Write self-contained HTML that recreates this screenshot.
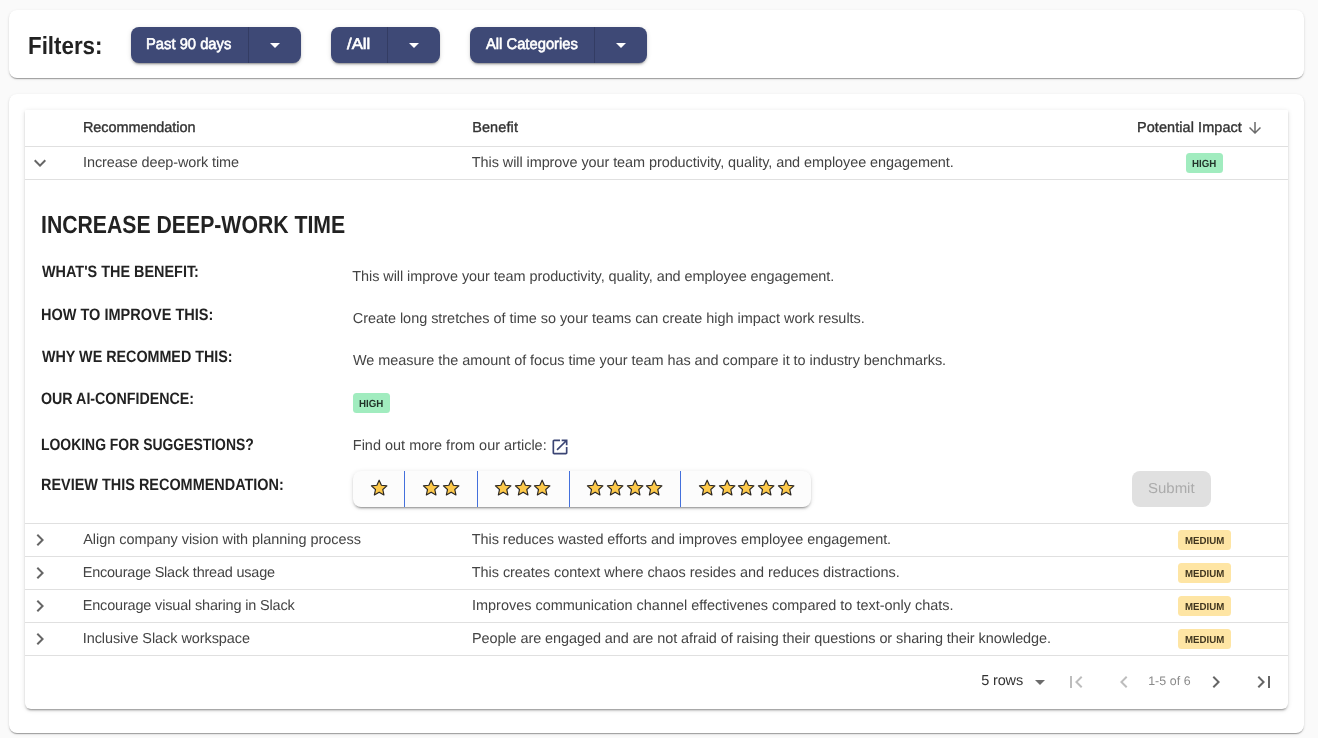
<!DOCTYPE html>
<html><head><meta charset="utf-8"><title>Recommendations</title>
<style>
*{box-sizing:border-box;margin:0;padding:0}
html,body{width:1318px;height:738px;overflow:hidden;background:#fafafa;font-family:"Liberation Sans",sans-serif}
.a{position:absolute}
.t{position:absolute;white-space:pre;text-rendering:geometricPrecision;line-height:normal;transform-origin:0 50%;font-family:"Liberation Sans",sans-serif}
.card{position:absolute;background:#fff;border-radius:8px;box-shadow:0 2px 1px -1px rgba(0,0,0,.2),0 1px 1px 0 rgba(0,0,0,.14),0 1px 3px 0 rgba(0,0,0,.12)}
.tbl{position:absolute;left:25px;top:110px;width:1263px;height:598.5px;background:#fff;border-radius:1px 1px 6px 6px;box-shadow:0 3px 1px -2px rgba(0,0,0,.2),0 2px 2px 0 rgba(0,0,0,.14),0 1px 5px 0 rgba(0,0,0,.12)}
.hl{position:absolute;left:25px;width:1263px;height:1px;background:#e0e0e0}
.btn{position:absolute;top:27px;height:35.5px;background:#3e4976;border-radius:8px;box-shadow:0 3px 1px -2px rgba(0,0,0,.2),0 2px 2px 0 rgba(0,0,0,.14),0 1px 5px 0 rgba(0,0,0,.12)}
.bdiv{position:absolute;top:27px;width:1px;height:35.5px;background:#333c63}
.ic{position:absolute;width:24px;height:24px}
.badge{position:absolute;height:20px;border-radius:3.5px}
.hi{background:#a1ecbf;width:37px}
.med{background:#fee5a4;width:53px;left:1178px}
.sdiv{position:absolute;top:471px;width:1.3px;height:36px;background:#4470dc}
.star{position:absolute;top:478.95px;width:18.3px;height:18.3px}
</style></head><body>
<div class="card" style="left:9px;top:10px;width:1295px;height:68px"></div>
<div class="card" style="left:9px;top:93.6px;width:1295px;height:639.3px"></div>
<div class="tbl"></div>

<!-- filter buttons -->
<div class="btn" style="left:131px;width:169.7px"></div><div class="bdiv" style="left:247.6px"></div>
<div class="btn" style="left:331px;width:108.8px"></div><div class="bdiv" style="left:386.9px"></div>
<div class="btn" style="left:470.2px;width:176.8px"></div><div class="bdiv" style="left:594px"></div>
<svg class="ic" style="left:263.2px;top:33px" viewBox="0 0 24 24"><path fill="#fff" d="M7 10l5 5 5-5z"/></svg>
<svg class="ic" style="left:402.1px;top:33px" viewBox="0 0 24 24"><path fill="#fff" d="M7 10l5 5 5-5z"/></svg>
<svg class="ic" style="left:609.1px;top:33px" viewBox="0 0 24 24"><path fill="#fff" d="M7 10l5 5 5-5z"/></svg>

<!-- lines -->
<div class="hl" style="top:146px"></div>
<div class="hl" style="top:179px"></div>
<div class="hl" style="top:523px"></div>
<div class="hl" style="top:556px"></div>
<div class="hl" style="top:589px"></div>
<div class="hl" style="top:622px"></div>
<div class="hl" style="top:655px"></div>

<!-- sort arrow -->
<svg class="a" style="left:1245.8px;top:119.1px;width:18px;height:18px" viewBox="0 0 24 24"><path fill="#6b6b6b" d="M20 12l-1.41-1.41L13 16.17V4h-2v12.17l-5.58-5.59L4 12l8 8 8-8z"/></svg>
<!-- expand chevrons -->
<svg class="ic" style="left:28px;top:150.6px" viewBox="0 0 24 24"><path fill="#666" d="M7.41 8.59L12 13.17l4.59-4.58L18 10l-6 6-6-6 1.41-1.41z"/></svg>
<svg class="ic" style="left:28px;top:528.2px" viewBox="0 0 24 24"><path fill="#666" d="M10 6L8.59 7.41 13.17 12l-4.58 4.59L10 18l6-6z"/></svg>
<svg class="ic" style="left:28px;top:561.2px" viewBox="0 0 24 24"><path fill="#666" d="M10 6L8.59 7.41 13.17 12l-4.58 4.59L10 18l6-6z"/></svg>
<svg class="ic" style="left:28px;top:594.2px" viewBox="0 0 24 24"><path fill="#666" d="M10 6L8.59 7.41 13.17 12l-4.58 4.59L10 18l6-6z"/></svg>
<svg class="ic" style="left:28px;top:627.2px" viewBox="0 0 24 24"><path fill="#666" d="M10 6L8.59 7.41 13.17 12l-4.58 4.59L10 18l6-6z"/></svg>

<!-- badges -->
<div class="badge hi" style="left:1186px;top:153px"></div>
<div class="badge hi" style="left:353px;top:393px"></div>
<div class="badge med" style="top:530px"></div>
<div class="badge med" style="top:563px"></div>
<div class="badge med" style="top:596px"></div>
<div class="badge med" style="top:629px"></div>

<!-- open in new -->
<svg class="a" style="left:550px;top:436.7px;width:20px;height:20px" viewBox="0 0 24 24"><path fill="#3b4574" d="M19 19H5V5h7V3H5c-1.11 0-2 .9-2 2v14c0 1.1.89 2 2 2h14c1.1 0 2-.9 2-2v-7h-2v7zM14 3v2h3.590l-9.830 9.830 1.410 1.410L19 6.410V10h2V3h-7z"/></svg>

<!-- star rating group -->
<div class="a" style="left:353px;top:471px;width:458px;height:36px;border-radius:8px;background:#fcfcfc;box-shadow:0 3px 1px -2px rgba(0,0,0,.2),0 2px 2px 0 rgba(0,0,0,.14),0 1px 5px 0 rgba(0,0,0,.12)"></div>
<div class="sdiv" style="left:403.9px"></div>
<div class="sdiv" style="left:476.9px"></div>
<div class="sdiv" style="left:568.8px"></div>
<div class="sdiv" style="left:679.9px"></div>

<svg class="star" style="left:369.65px" viewBox="0 0 18.3 18.3"><path d="M9.15 1.20 L11.41 6.24 L16.90 6.83 L12.81 10.54 L13.94 15.94 L9.15 13.20 L4.36 15.94 L5.49 10.54 L1.40 6.83 L6.89 6.24 Z" fill="#fdc94a" stroke="#2b2723" stroke-width="1.15" stroke-linejoin="round"/></svg>
<svg class="star" style="left:422.15px" viewBox="0 0 18.3 18.3"><path d="M9.15 1.20 L11.41 6.24 L16.90 6.83 L12.81 10.54 L13.94 15.94 L9.15 13.20 L4.36 15.94 L5.49 10.54 L1.40 6.83 L6.89 6.24 Z" fill="#fdc94a" stroke="#2b2723" stroke-width="1.15" stroke-linejoin="round"/></svg>
<svg class="star" style="left:441.70px" viewBox="0 0 18.3 18.3"><path d="M9.15 1.20 L11.41 6.24 L16.90 6.83 L12.81 10.54 L13.94 15.94 L9.15 13.20 L4.36 15.94 L5.49 10.54 L1.40 6.83 L6.89 6.24 Z" fill="#fdc94a" stroke="#2b2723" stroke-width="1.15" stroke-linejoin="round"/></svg>
<svg class="star" style="left:494.15px" viewBox="0 0 18.3 18.3"><path d="M9.15 1.20 L11.41 6.24 L16.90 6.83 L12.81 10.54 L13.94 15.94 L9.15 13.20 L4.36 15.94 L5.49 10.54 L1.40 6.83 L6.89 6.24 Z" fill="#fdc94a" stroke="#2b2723" stroke-width="1.15" stroke-linejoin="round"/></svg>
<svg class="star" style="left:513.70px" viewBox="0 0 18.3 18.3"><path d="M9.15 1.20 L11.41 6.24 L16.90 6.83 L12.81 10.54 L13.94 15.94 L9.15 13.20 L4.36 15.94 L5.49 10.54 L1.40 6.83 L6.89 6.24 Z" fill="#fdc94a" stroke="#2b2723" stroke-width="1.15" stroke-linejoin="round"/></svg>
<svg class="star" style="left:533.25px" viewBox="0 0 18.3 18.3"><path d="M9.15 1.20 L11.41 6.24 L16.90 6.83 L12.81 10.54 L13.94 15.94 L9.15 13.20 L4.36 15.94 L5.49 10.54 L1.40 6.83 L6.89 6.24 Z" fill="#fdc94a" stroke="#2b2723" stroke-width="1.15" stroke-linejoin="round"/></svg>
<svg class="star" style="left:586.45px" viewBox="0 0 18.3 18.3"><path d="M9.15 1.20 L11.41 6.24 L16.90 6.83 L12.81 10.54 L13.94 15.94 L9.15 13.20 L4.36 15.94 L5.49 10.54 L1.40 6.83 L6.89 6.24 Z" fill="#fdc94a" stroke="#2b2723" stroke-width="1.15" stroke-linejoin="round"/></svg>
<svg class="star" style="left:606.00px" viewBox="0 0 18.3 18.3"><path d="M9.15 1.20 L11.41 6.24 L16.90 6.83 L12.81 10.54 L13.94 15.94 L9.15 13.20 L4.36 15.94 L5.49 10.54 L1.40 6.83 L6.89 6.24 Z" fill="#fdc94a" stroke="#2b2723" stroke-width="1.15" stroke-linejoin="round"/></svg>
<svg class="star" style="left:625.55px" viewBox="0 0 18.3 18.3"><path d="M9.15 1.20 L11.41 6.24 L16.90 6.83 L12.81 10.54 L13.94 15.94 L9.15 13.20 L4.36 15.94 L5.49 10.54 L1.40 6.83 L6.89 6.24 Z" fill="#fdc94a" stroke="#2b2723" stroke-width="1.15" stroke-linejoin="round"/></svg>
<svg class="star" style="left:645.10px" viewBox="0 0 18.3 18.3"><path d="M9.15 1.20 L11.41 6.24 L16.90 6.83 L12.81 10.54 L13.94 15.94 L9.15 13.20 L4.36 15.94 L5.49 10.54 L1.40 6.83 L6.89 6.24 Z" fill="#fdc94a" stroke="#2b2723" stroke-width="1.15" stroke-linejoin="round"/></svg>
<svg class="star" style="left:698.35px" viewBox="0 0 18.3 18.3"><path d="M9.15 1.20 L11.41 6.24 L16.90 6.83 L12.81 10.54 L13.94 15.94 L9.15 13.20 L4.36 15.94 L5.49 10.54 L1.40 6.83 L6.89 6.24 Z" fill="#fdc94a" stroke="#2b2723" stroke-width="1.15" stroke-linejoin="round"/></svg>
<svg class="star" style="left:717.90px" viewBox="0 0 18.3 18.3"><path d="M9.15 1.20 L11.41 6.24 L16.90 6.83 L12.81 10.54 L13.94 15.94 L9.15 13.20 L4.36 15.94 L5.49 10.54 L1.40 6.83 L6.89 6.24 Z" fill="#fdc94a" stroke="#2b2723" stroke-width="1.15" stroke-linejoin="round"/></svg>
<svg class="star" style="left:737.45px" viewBox="0 0 18.3 18.3"><path d="M9.15 1.20 L11.41 6.24 L16.90 6.83 L12.81 10.54 L13.94 15.94 L9.15 13.20 L4.36 15.94 L5.49 10.54 L1.40 6.83 L6.89 6.24 Z" fill="#fdc94a" stroke="#2b2723" stroke-width="1.15" stroke-linejoin="round"/></svg>
<svg class="star" style="left:757.00px" viewBox="0 0 18.3 18.3"><path d="M9.15 1.20 L11.41 6.24 L16.90 6.83 L12.81 10.54 L13.94 15.94 L9.15 13.20 L4.36 15.94 L5.49 10.54 L1.40 6.83 L6.89 6.24 Z" fill="#fdc94a" stroke="#2b2723" stroke-width="1.15" stroke-linejoin="round"/></svg>
<svg class="star" style="left:776.55px" viewBox="0 0 18.3 18.3"><path d="M9.15 1.20 L11.41 6.24 L16.90 6.83 L12.81 10.54 L13.94 15.94 L9.15 13.20 L4.36 15.94 L5.49 10.54 L1.40 6.83 L6.89 6.24 Z" fill="#fdc94a" stroke="#2b2723" stroke-width="1.15" stroke-linejoin="round"/></svg>

<!-- submit -->
<div class="a" style="left:1132.3px;top:471px;width:78.5px;height:36px;border-radius:8px;background:#e0e0e0"></div>

<!-- pagination icons -->
<svg class="ic" style="left:1027.8px;top:669.6px" viewBox="0 0 24 24"><path fill="#6b6b6b" d="M7 10l5 5 5-5z"/></svg>
<svg class="ic" style="left:1063.5px;top:669.7px" viewBox="0 0 24 24"><path fill="#bdbdbd" d="M18.41 16.59L13.82 12l4.590-4.590L17 6l-6 6 6 6zM6 6h2v12H6z"/></svg>
<svg class="ic" style="left:1112px;top:669.7px" viewBox="0 0 24 24"><path fill="#bdbdbd" d="M15.41 7.41L14 6l-6 6 6 6 1.410-1.410L10.830 12z"/></svg>
<svg class="ic" style="left:1203.7px;top:669.7px" viewBox="0 0 24 24"><path fill="#666" d="M10 6L8.59 7.41 13.17 12l-4.58 4.59L10 18l6-6z"/></svg>
<svg class="ic" style="left:1251.9px;top:669.7px" viewBox="0 0 24 24"><path fill="#666" d="M5.59 7.41L10.18 12l-4.590 4.590L7 18l6-6-6-6zM16 6h2v12h-2z"/></svg>

<div class="a" style="left:0;top:0;width:1318px;height:738px;will-change:transform">
<span class="t" style="left:28.01px;top:33.00px;font-size:24.79px;font-weight:700;color:#222;transform:scaleX(0.9010);">Filters:</span>
<span class="t" style="left:146.08px;top:36.30px;font-size:15.49px;font-weight:400;color:#fff;-webkit-text-stroke:0.60px currentColor;transform:scaleX(0.9533);">Past 90 days</span>
<span class="t" style="left:347.29px;top:36.30px;font-size:15.49px;font-weight:400;color:#fff;-webkit-text-stroke:0.60px currentColor;transform:scaleX(1.0816);">/All</span>
<span class="t" style="left:485.52px;top:36.30px;font-size:15.49px;font-weight:400;color:#fff;-webkit-text-stroke:0.60px currentColor;transform:scaleX(0.9532);">All Categories</span>
<span class="t" style="left:82.95px;top:120.00px;font-size:14.46px;font-weight:400;color:#333;-webkit-text-stroke:0.36px currentColor;letter-spacing:-0.058px;">Recommendation</span>
<span class="t" style="left:472.20px;top:120.00px;font-size:14.46px;font-weight:400;color:#333;-webkit-text-stroke:0.36px currentColor;letter-spacing:0.120px;">Benefit</span>
<span class="t" style="left:1137.00px;top:120.00px;font-size:14.46px;font-weight:400;color:#333;-webkit-text-stroke:0.36px currentColor;letter-spacing:0.080px;">Potential Impact</span>
<span class="t" style="left:83.10px;top:155.10px;font-size:14.46px;font-weight:400;color:#444;letter-spacing:-0.109px;">Increase deep-work time</span>
<span class="t" style="left:471.80px;top:155.10px;font-size:14.46px;font-weight:400;color:#444;letter-spacing:-0.069px;">This will improve your team productivity, quality, and employee engagement.</span>
<span class="t" style="left:1192.35px;top:159.00px;font-size:10.33px;font-weight:700;color:#22332a;transform:scaleX(0.9414);">HIGH</span>
<span class="t" style="left:40.58px;top:212.00px;font-size:24.79px;font-weight:700;color:#222;transform:scaleX(0.8561);">INCREASE DEEP-WORK TIME</span>
<span class="t" style="left:42.00px;top:262.00px;font-size:16.53px;font-weight:700;color:#222;transform:scaleX(0.8728);">WHAT&#x27;S THE BENEFIT:</span>
<span class="t" style="left:41.12px;top:305.00px;font-size:16.53px;font-weight:700;color:#222;transform:scaleX(0.8790);">HOW TO IMPROVE THIS:</span>
<span class="t" style="left:42.00px;top:347.00px;font-size:16.53px;font-weight:700;color:#222;transform:scaleX(0.8668);">WHY WE RECOMMED THIS:</span>
<span class="t" style="left:41.37px;top:389.10px;font-size:16.53px;font-weight:700;color:#222;transform:scaleX(0.8627);">OUR AI-CONFIDENCE:</span>
<span class="t" style="left:41.16px;top:434.80px;font-size:16.53px;font-weight:700;color:#222;transform:scaleX(0.8433);">LOOKING FOR SUGGESTIONS?</span>
<span class="t" style="left:41.13px;top:475.20px;font-size:16.53px;font-weight:700;color:#222;transform:scaleX(0.8744);">REVIEW THIS RECOMMENDATION:</span>
<span class="t" style="left:352.30px;top:268.90px;font-size:14.46px;font-weight:400;color:#444;letter-spacing:-0.069px;">This will improve your team productivity, quality, and employee engagement.</span>
<span class="t" style="left:352.72px;top:311.10px;font-size:14.46px;font-weight:400;color:#444;letter-spacing:-0.026px;">Create long stretches of time so your teams can create high impact work results.</span>
<span class="t" style="left:353.00px;top:353.20px;font-size:14.46px;font-weight:400;color:#444;letter-spacing:-0.040px;">We measure the amount of focus time your team has and compare it to industry benchmarks.</span>
<span class="t" style="left:359.35px;top:399.00px;font-size:10.33px;font-weight:700;color:#22332a;transform:scaleX(0.9414);">HIGH</span>
<span class="t" style="left:352.80px;top:438.00px;font-size:14.46px;font-weight:400;color:#444;letter-spacing:0.010px;">Find out more from our article:</span>
<span class="t" style="left:1147.99px;top:481.00px;font-size:14.46px;font-weight:400;color:#ababab;transform:scaleX(1.0358);">Submit</span>
<span class="t" style="left:83.20px;top:532.40px;font-size:14.46px;font-weight:400;color:#444;letter-spacing:-0.023px;">Align company vision with planning process</span>
<span class="t" style="left:471.80px;top:532.40px;font-size:14.46px;font-weight:400;color:#444;letter-spacing:-0.050px;">This reduces wasted efforts and improves employee engagement.</span>
<span class="t" style="left:1185.15px;top:536.20px;font-size:10.33px;font-weight:700;color:#40361f;transform:scaleX(0.9366);">MEDIUM</span>
<span class="t" style="left:82.70px;top:565.40px;font-size:14.46px;font-weight:400;color:#444;letter-spacing:-0.196px;">Encourage Slack thread usage</span>
<span class="t" style="left:471.80px;top:565.40px;font-size:14.46px;font-weight:400;color:#444;letter-spacing:-0.042px;">This creates context where chaos resides and reduces distractions.</span>
<span class="t" style="left:1185.15px;top:569.20px;font-size:10.33px;font-weight:700;color:#40361f;transform:scaleX(0.9366);">MEDIUM</span>
<span class="t" style="left:82.70px;top:598.40px;font-size:14.46px;font-weight:400;color:#444;letter-spacing:-0.153px;">Encourage visual sharing in Slack</span>
<span class="t" style="left:472.00px;top:598.40px;font-size:14.46px;font-weight:400;color:#444;letter-spacing:-0.003px;">Improves communication channel effectivenes compared to text-only chats.</span>
<span class="t" style="left:1185.15px;top:602.20px;font-size:10.33px;font-weight:700;color:#40361f;transform:scaleX(0.9366);">MEDIUM</span>
<span class="t" style="left:82.70px;top:631.40px;font-size:14.46px;font-weight:400;color:#444;letter-spacing:-0.057px;">Inclusive Slack workspace</span>
<span class="t" style="left:472.00px;top:631.40px;font-size:14.46px;font-weight:400;color:#444;letter-spacing:-0.074px;">People are engaged and are not afraid of raising their questions or sharing their knowledge.</span>
<span class="t" style="left:1185.15px;top:635.20px;font-size:10.33px;font-weight:700;color:#40361f;transform:scaleX(0.9366);">MEDIUM</span>
<span class="t" style="left:981.14px;top:673.20px;font-size:14.46px;font-weight:400;color:#333;letter-spacing:-0.108px;">5 rows</span>
<span class="t" style="left:1148.16px;top:674.40px;font-size:12.4px;font-weight:400;color:#8a8a8a;letter-spacing:0.062px;">1-5 of 6</span>
</div>
</body></html>
